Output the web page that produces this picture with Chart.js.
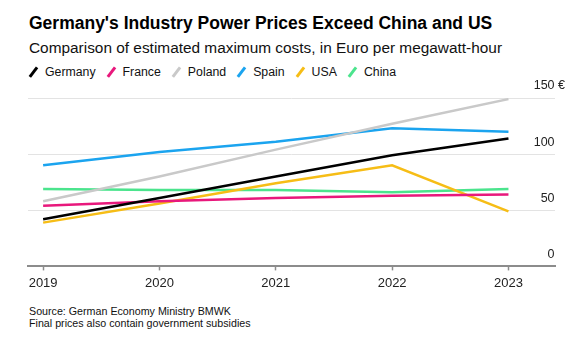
<!DOCTYPE html>
<html>
<head>
<meta charset="utf-8">
<script src="https://cdn.jsdelivr.net/npm/chart.js@4"></script>
<style>
  body { margin: 0; background: #fff; font-family: "Liberation Sans", Arial, sans-serif; color: #000; }
  #wrap { position: relative; width: 579px; height: 354px; overflow: hidden; }
  .title { position: absolute; left: 29px; top: 13px; font-size: 17.5px; line-height: 20px; font-weight: bold; white-space: nowrap; }
  .subtitle { position: absolute; left: 29px; top: 39px; font-size: 15.4px; line-height: 18px; white-space: nowrap; color: #111; }
  #legend { position: absolute; left: 28px; top: 65px; height: 14px; display: flex; font-size: 12.3px; line-height: 14px; white-space: nowrap; color: #111; }
  #legend .item { display: flex; align-items: center; margin-right: 10px; }
  #legend .mark { width: 10px; height: 14px; position: relative; margin-right: 7px; }
  #legend .mark span { position: absolute; left: 4px; top: 1px; width: 2.5px; height: 12px; transform: rotate(37deg); }
  .chartbox { position: absolute; left: 0; top: 80px; width: 579px; height: 216px; }
  .source { position: absolute; left: 29px; top: 305px; font-size: 10.7px; line-height: 12px; color: #111; white-space: nowrap; }
</style>
</head>
<body>
<div id="wrap">
  <div class="title">Germany's Industry Power Prices Exceed China and US</div>
  <div class="subtitle">Comparison of estimated maximum costs, in Euro per megawatt-hour</div>
  <div id="legend"></div>
  <div class="chartbox"><canvas id="priceChart"></canvas></div>
  <div class="source">Source: German Economy Ministry BMWK<br>Final prices also contain government subsidies</div>
</div>
<script>
// data, Euro per MWh
const years = [2019, 2020, 2021, 2022, 2023];
const germany = [42, 61, 80, 99, 114];
const france = [54, 58, 61, 63, 64];
const poland = [58, 80, 104, 127, 149];
const spain = [90, 102, 111, 123, 120];
const usa = [39, 56, 74, 90, 49];
const china = [69, 68, 68, 66, 69];
const yTicks = [0, 50, 100, 150];

const seriesNames = ['Germany', 'France', 'Poland', 'Spain', 'USA', 'China'];
const seriesValues = [germany, france, poland, spain, usa, china];
const seriesColors = ['#000000', '#e8187c', '#c9c9c9', '#1ba4ef', '#f6bd16', '#4be48d'];

// legend
const legend = document.getElementById('legend');
seriesNames.forEach(function (name, i) {
  const item = document.createElement('div');
  item.className = 'item';
  item.innerHTML = '<div class="mark"><span style="background:' + seriesColors[i] + '"></span></div>' + name;
  legend.appendChild(item);
});

const ctx = document.getElementById('priceChart').getContext('2d');
const chart = new Chart(ctx, {
  type: 'line',
  data: {
    datasets: seriesNames.map(function (name, i) {
      return {
        label: name,
        data: years.map((y, j) => ({ x: y, y: seriesValues[i][j] })),
        borderColor: seriesColors[i],
        backgroundColor: seriesColors[i],
        borderWidth: 2.5,
        pointRadius: 0,
        tension: 0
      };
    })
  },
  options: {
    responsive: true,
    maintainAspectRatio: false,
    animation: false,
    // y labels sit inside the plot; the axis itself takes 2 * tick padding
    layout: { padding: { left: 28, right: 4, top: 18, bottom: 0 } },
    plugins: {
      legend: { display: false },
      tooltip: { enabled: false }
    },
    scales: {
      x: {
        type: 'linear',
        min: 2018.87,
        max: 2023.4,
        grid: { drawOnChartArea: false, drawTicks: true, tickLength: 4, tickColor: '#8c8c8c', tickWidth: 1.5 },
        border: { display: true, color: '#8c8c8c', width: 2 },
        ticks: {
          stepSize: 1,
          includeBounds: false,
          padding: 5,
          color: '#222',
          font: { family: '"Liberation Sans", Arial, sans-serif', size: 13 },
          callback: v => String(v)
        }
      },
      y: {
        position: 'right',
        min: yTicks[0],
        max: yTicks[yTicks.length - 1],
        grid: { color: '#e3e3e3', lineWidth: 1, drawTicks: false },
        border: { display: false },
        afterBuildTicks: axis => { axis.ticks = yTicks.map(v => ({ value: v })); },
        ticks: {
          mirror: true,
          padding: 10,
          labelOffset: -12,
          color: '#222',
          font: { family: '"Liberation Sans", Arial, sans-serif', size: 12.5 },
          callback: v => v === 150 ? '150 €' : v + ' \u2007'
        }
      }
    }
  }
});
</script>
</body>
</html>
